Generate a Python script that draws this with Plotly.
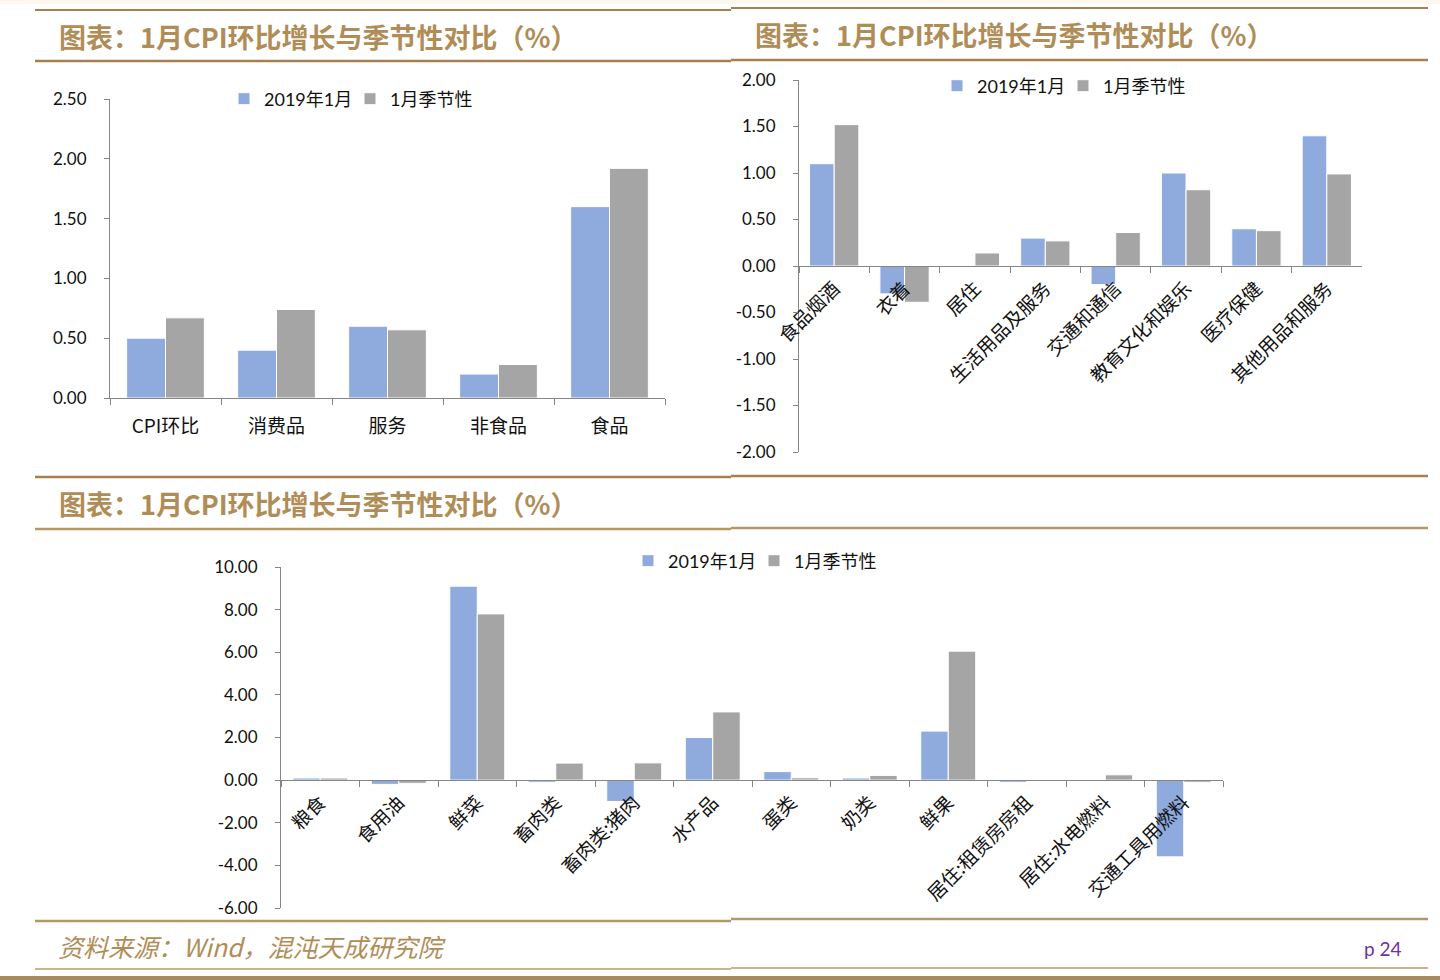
import plotly.graph_objects as go

# ---------------- data ----------------
series_names = ["2019年1月", "1月季节性"]

c1_cats = ["CPI环比", "消费品", "服务", "非食品", "食品"]
c1_jan2019 = [0.50, 0.40, 0.60, 0.20, 1.60]
c1_seasonal = [0.67, 0.74, 0.57, 0.28, 1.92]

c2_cats = ["食品烟酒", "衣着", "居住", "生活用品及服务", "交通和通信",
           "教育文化和娱乐", "医疗保健", "其他用品和服务"]
c2_jan2019 = [1.10, -0.30, 0.00, 0.30, -0.20, 1.00, 0.40, 1.40]
c2_seasonal = [1.52, -0.39, 0.14, 0.27, 0.36, 0.82, 0.38, 0.99]

c3_cats = ["粮食", "食用油", "鲜菜", "畜肉类", "畜肉类:猪肉", "水产品", "蛋类",
           "奶类", "鲜果", "居住:租赁房房租", "居住:水电燃料", "交通工具用燃料"]
c3_jan2019 = [0.10, -0.20, 9.10, -0.10, -1.00, 2.00, 0.40, 0.10, 2.30, -0.10, 0.00, -3.60]
c3_seasonal = [0.10, -0.15, 7.80, 0.80, 0.81, 3.20, 0.11, 0.22, 6.05, -0.02, 0.25, -0.10]

c1_yticks = [0, 0.5, 1.0, 1.5, 2.0, 2.5]
c2_yticks = [-2.0, -1.5, -1.0, -0.5, 0, 0.5, 1.0, 1.5, 2.0]
c3_yticks = [-6, -4, -2, 0, 2, 4, 6, 8, 10]

title_text = "图表：1月CPI环比增长与季节性对比（%）"
source_text = "资料来源：Wind，混沌天成研究院"
page_text = "p 24"

# ---------------- style ----------------
W, H = 1440, 980
BLUE = "#8FAADC"
GRAY = "#A5A5A5"
AXIS = "#868686"
GOLD = "#B08D57"
LINE = "#A67F52"
LINE_LIGHT = "#C9B48E"
FONT = "Lato, 'Noto Sans CJK SC', sans-serif"
CJK = "'Noto Sans CJK SC', Lato, sans-serif"


def px(x):
    return x / W


def py(y):
    return 1 - y / H


fig = go.Figure()

charts = [
    (c1_cats, c1_jan2019, c1_seasonal, "x", "y", "legend"),
    (c2_cats, c2_jan2019, c2_seasonal, "x2", "y2", "legend2"),
    (c3_cats, c3_jan2019, c3_seasonal, "x3", "y3", "legend3"),
]
for cats, a, b, xa, ya, lg in charts:
    for name, vals, col in ((series_names[0], a, BLUE), (series_names[1], b, GRAY)):
        fig.add_trace(go.Bar(
            x=cats, y=vals, name=name, xaxis=xa, yaxis=ya, legend=lg,
            marker=dict(color=col, line=dict(color="white", width=1)),
            hoverinfo="x+y+name",
        ))

frames = {
    1: dict(x0=110, x1=665, y_top=99, y_bot=398, ticks=c1_yticks),
    2: dict(x0=799, x1=1362, y_top=80, y_bot=452, ticks=c2_yticks),
    3: dict(x0=281, x1=1223, y_top=567, y_bot=908, ticks=c3_yticks),
}

layout = dict(
    width=W, height=H, margin=dict(l=0, r=0, t=0, b=0, autoexpand=False),
    paper_bgcolor="white", plot_bgcolor="rgba(0,0,0,0)",
    barmode="group", bargap=0.30, bargroupgap=0,
    font=dict(family=FONT, color="#111111"),
    showlegend=True,
)

for i, f in frames.items():
    sx = "" if i == 1 else str(i)
    yd = [py(f["y_bot"]), py(f["y_top"])]
    lo, hi = min(f["ticks"]), max(f["ticks"])
    zero_pos = yd[0] + (0 - lo) / (hi - lo) * (yd[1] - yd[0])
    xa = dict(
        domain=[px(f["x0"]), px(f["x1"])], automargin=False,
        showline=True, linecolor=AXIS, linewidth=1,
        ticks="outside", tickson="boundaries", ticklen=6, tickcolor=AXIS,
        showgrid=False, zeroline=False,
        tickfont=dict(family=CJK, size=19, color="#111111"),
        fixedrange=True,
    )
    if i == 1:
        xa.update(anchor="y", tickangle=0, ticklabelstandoff=11)
    else:
        xa.update(anchor="free", position=zero_pos, tickangle=-45, ticklabelstandoff=3)
    ya = dict(
        domain=yd, range=[lo, hi], automargin=False,
        tickmode="array", tickvals=f["ticks"],
        ticktext=["%.2f" % v for v in f["ticks"]],
        anchor="x" + sx if sx else "x",
        showline=True, linecolor=AXIS, linewidth=1,
        ticks="outside", ticklen=5, tickcolor=AXIS,
        showgrid=False, zeroline=False,
        tickfont=dict(family=FONT, size=17, color="#111111"),
        ticklabelstandoff=14, fixedrange=True,
    )
    layout["xaxis" + sx] = xa
    layout["yaxis" + sx] = ya

legend_common = dict(
    orientation="h", xanchor="left", yanchor="middle",
    bgcolor="rgba(0,0,0,0)", borderwidth=0,
    font=dict(family=FONT, size=18, color="#111111"),
    entrywidth=81, entrywidthmode="pixels", traceorder="normal",
    itemclick=False, itemdoubleclick=False,
)
layout["legend"] = dict(legend_common, x=px(224), y=py(99))
layout["legend2"] = dict(legend_common, x=px(937), y=py(86))
layout["legend3"] = dict(legend_common, x=px(628), y=py(561))

fig.update_layout(**layout)

# ---------------- decorations ----------------
shapes = []


def hline(x0, x1, y, color, w):
    shapes.append(dict(type="line", xref="paper", yref="paper",
                       x0=px(x0), x1=px(x1), y0=py(y), y1=py(y),
                       line=dict(color=color, width=w)))


shapes.append(dict(type="rect", xref="paper", yref="paper", x0=0, x1=1,
                   y0=py(4), y1=1, fillcolor="#FDF8EF", line=dict(width=0), layer="below"))
hline(35, 731, 10, LINE, 2)
hline(731, 1428, 8, LINE, 2)
hline(35, 731, 61, LINE, 2.5)
hline(731, 1428, 60, LINE, 2.5)
hline(35, 731, 477, LINE, 2.5)
hline(731, 1428, 476, LINE, 2.5)
hline(35, 731, 529, "#B59766", 2.5)
hline(731, 1428, 528, "#B59766", 2.5)
hline(35, 731, 921, "#B59766", 2.5)
hline(731, 1428, 919, "#B59766", 2.5)
hline(35, 731, 969, LINE_LIGHT, 2)
hline(731, 1428, 968, LINE_LIGHT, 2)
shapes.append(dict(type="rect", xref="paper", yref="paper", x0=0, x1=1,
                   y0=0, y1=py(976), fillcolor="#A88A60", line=dict(width=0)))

annotations = []
for (x, y) in ((57, 36), (753, 35), (57, 503)):
    annotations.append(dict(
        text="<b>" + title_text + "</b>", xref="paper", yref="paper",
        x=px(x), y=py(y), xanchor="left", yanchor="middle", showarrow=False,
        font=dict(family=CJK, size=27, color=GOLD),
    ))
annotations.append(dict(
    text="<i>" + source_text + "</i>", xref="paper", yref="paper",
    x=px(56), y=py(946), xanchor="left", yanchor="middle", showarrow=False,
    font=dict(family=CJK, size=25, color=GOLD),
))
annotations.append(dict(
    text=page_text, xref="paper", yref="paper",
    x=px(1404), y=py(948), xanchor="right", yanchor="middle", showarrow=False,
    font=dict(family=FONT, size=19, color="#7030A0"),
))

fig.update_layout(shapes=shapes, annotations=annotations)

fig.write_html("out.html")
